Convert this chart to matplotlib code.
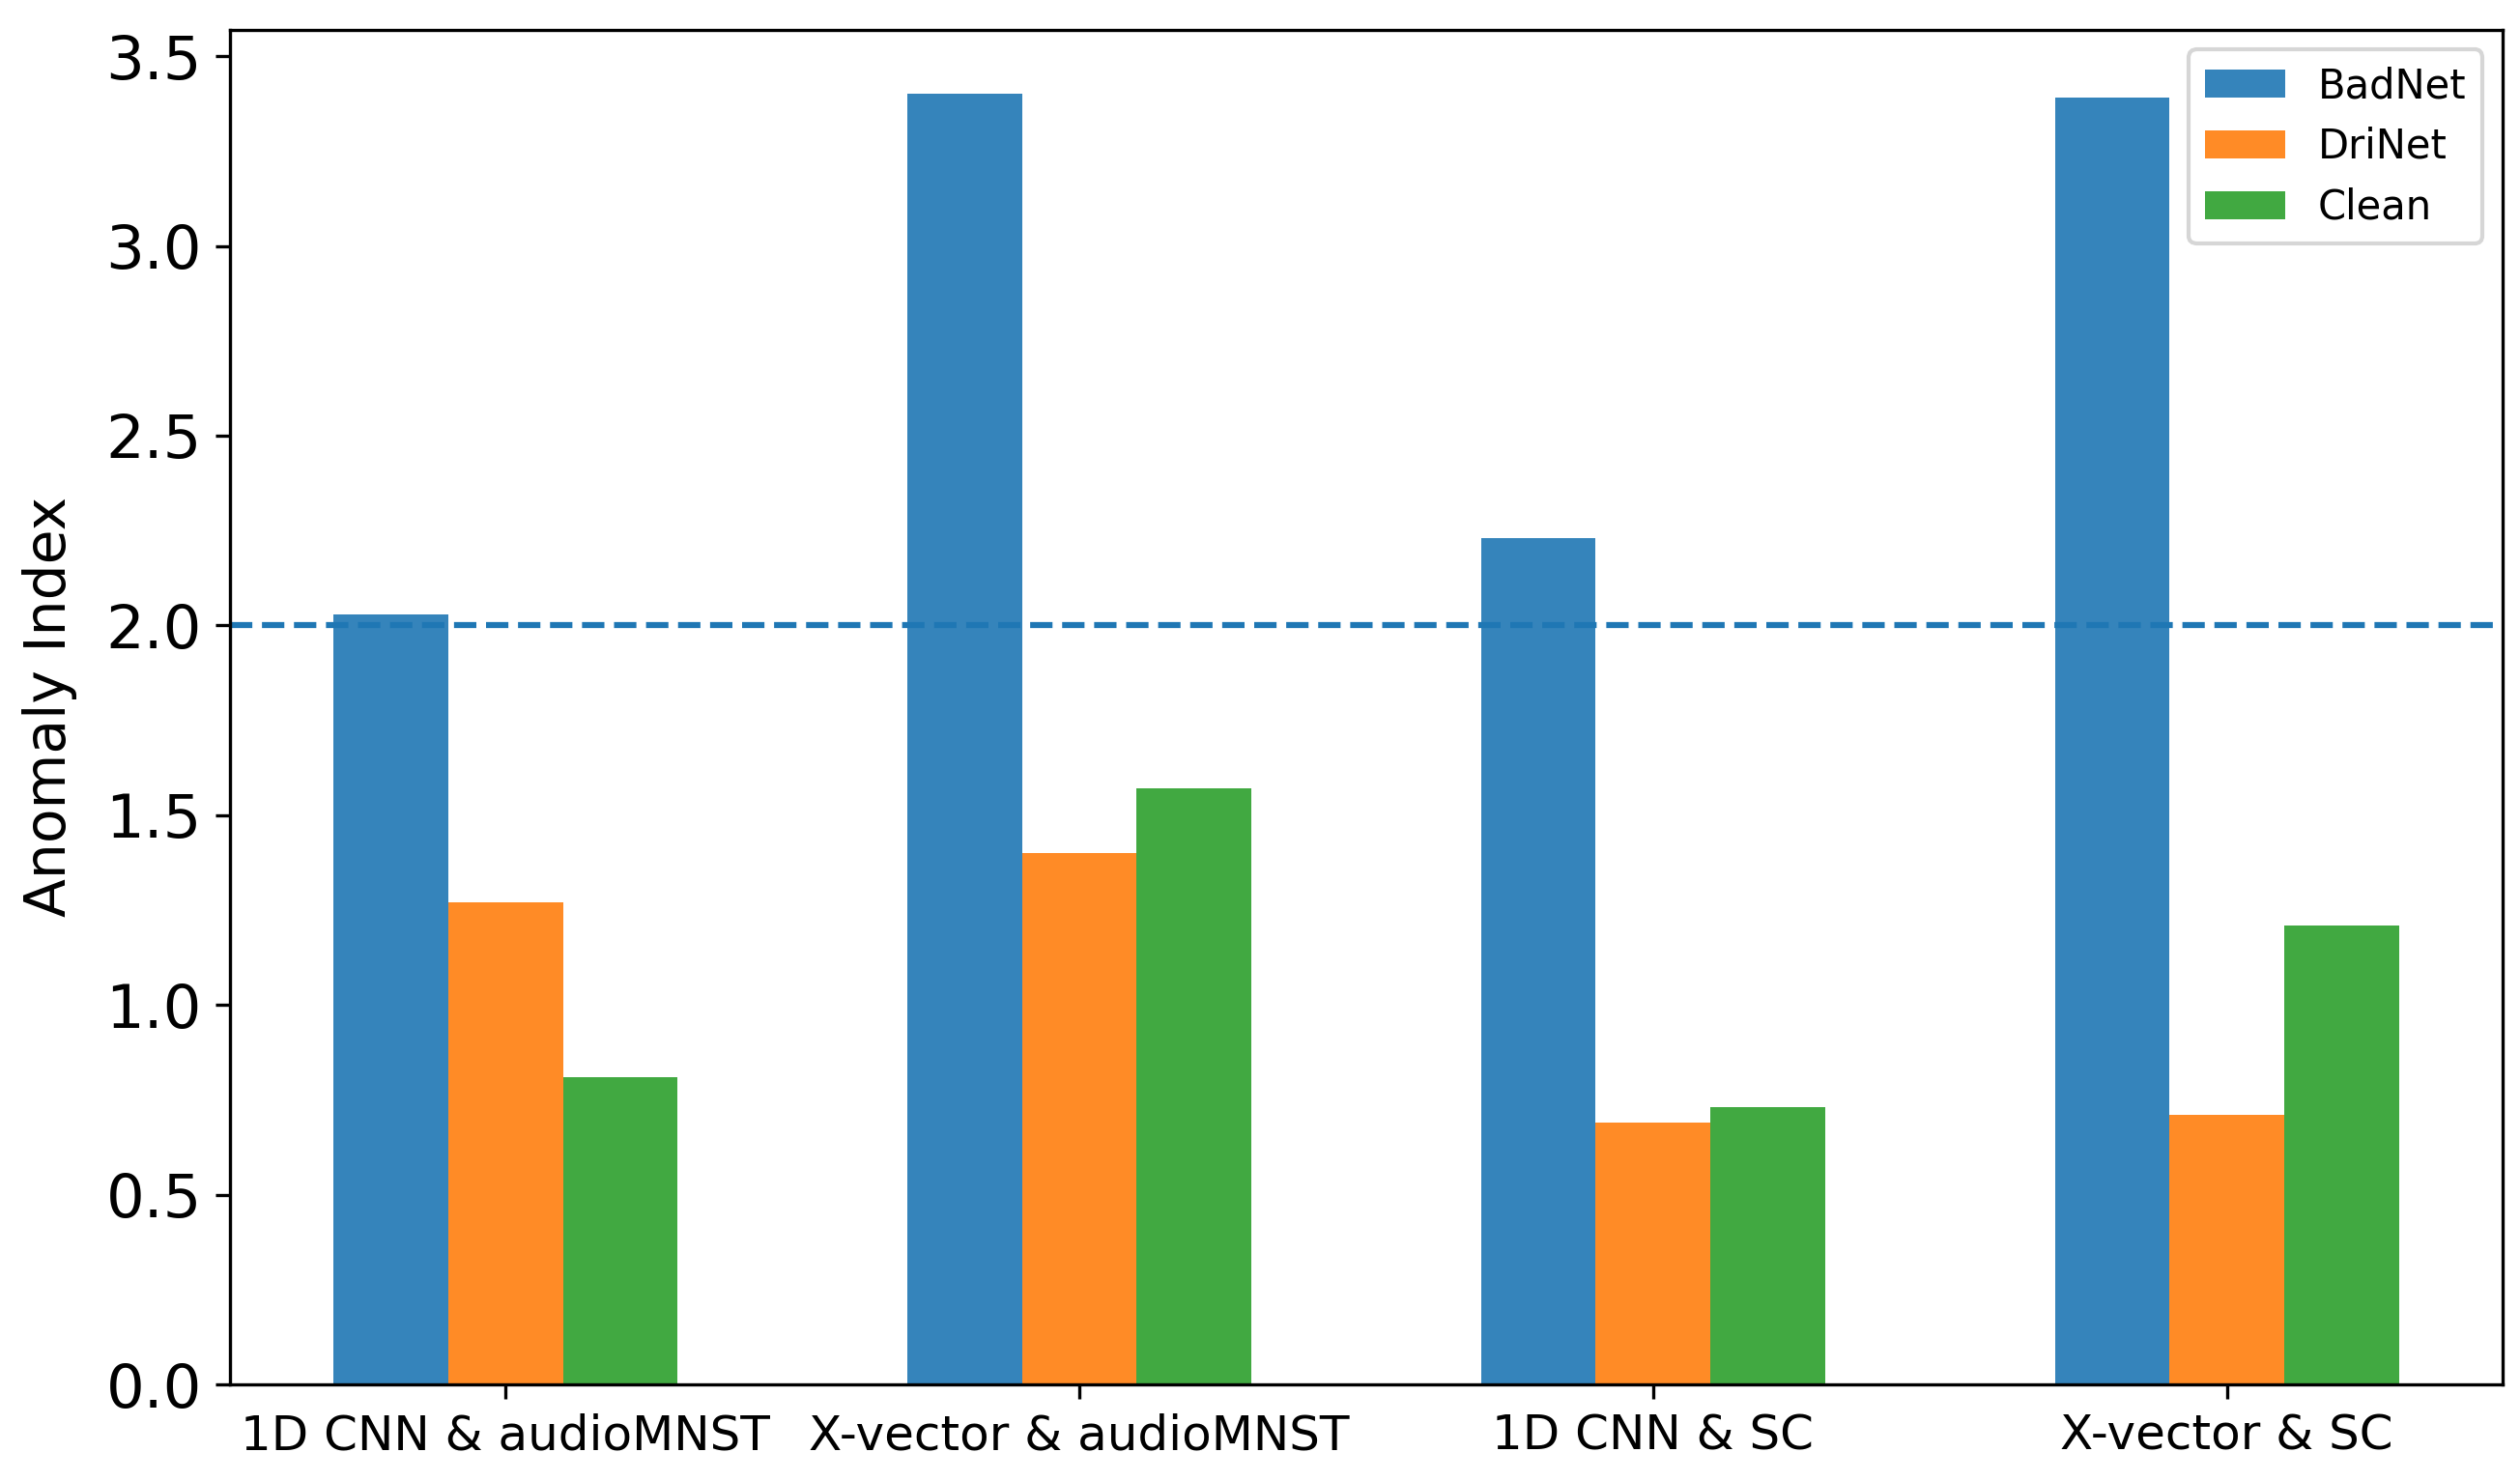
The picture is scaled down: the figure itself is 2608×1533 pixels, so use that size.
import numpy as np
import matplotlib
matplotlib.use("Agg")
import matplotlib.pyplot as plt

# data
settings = ["1D CNN & audioMNST", "X-vector & audioMNST", "1D CNN & SC", "X-vector & SC"]
badnet = [2.03, 3.40, 2.23, 3.39]
drinet = [1.27, 1.40, 0.69, 0.71]
clean = [0.81, 1.57, 0.73, 1.21]
threshold = 2.0

x = np.arange(len(settings))
width = 0.2

fig = plt.figure(figsize=(2608 / 300, 1533 / 300), dpi=300)
ax = fig.add_axes([0.0913, 0.0652, 0.993 - 0.0913, 0.980 - 0.0652])

ax.bar(x - width, badnet, width, label="BadNet", color="tab:blue", alpha=0.9)
ax.bar(x, drinet, width, label="DriNet", color="tab:orange", alpha=0.9)
ax.bar(x + width, clean, width, label="Clean", color="tab:green", alpha=0.9)
ax.axhline(threshold, linestyle="--", color="tab:blue")  # anomaly threshold

ax.set_xticks(x)
ax.set_xticklabels(settings, fontsize=12)
ax.tick_params(axis="y", labelsize=15)
ax.set_ylabel("Anomaly Index", fontsize=14, labelpad=7)
ax.legend(loc="upper right", fontsize=10)

fig.savefig("out.png", dpi=300)
